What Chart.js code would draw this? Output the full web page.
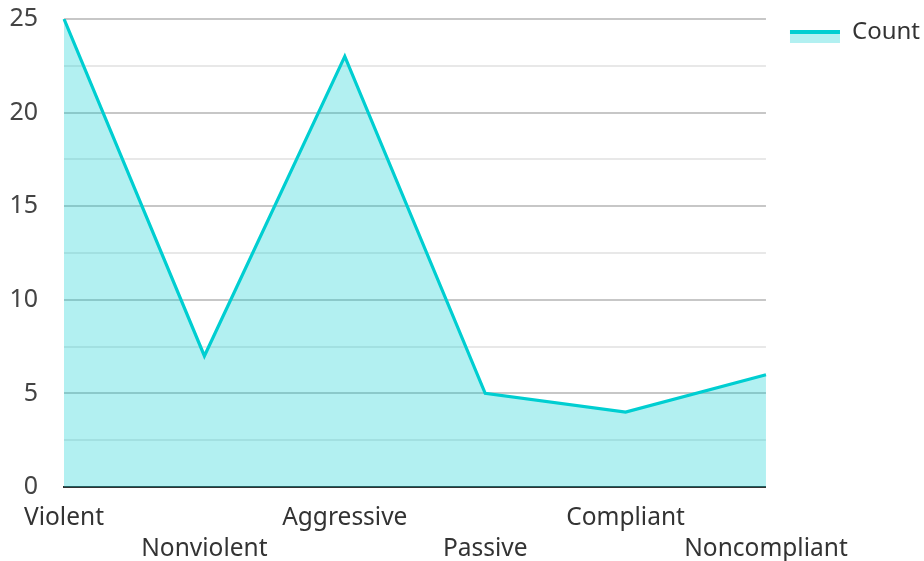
<html>
  <head>
    <title>Count</title>
    <style>
      body { margin: 0; background: #fff; }
      #wrap { width: 924px; height: 561px; }
    </style>
  </head>
  <body>
    <div id="wrap"><canvas id="myChart"></canvas></div>
  </body>
</html>

<script src="https://cdn.jsdelivr.net/npm/chart.js"></script>
<script>
  var categories = ['Violent', 'Nonviolent', 'Aggressive', 'Passive', 'Compliant', 'Noncompliant'];
  var countData = [25, 7, 23, 5, 4, 6];
  var yTicks = [0, 5, 10, 15, 20, 25];

  var lineColor = 'rgb(0, 206, 209)';
  var fillColor = 'rgba(0, 206, 209, 0.3)';

  // every other label goes on a second line so they don't collide
  var labels = categories.map(function (c, i) {
    return i % 2 === 0 ? [c] : ['', c];
  });

  // legend swatch: light fill with a thick line along its top
  const legendSwatch = {
    id: 'legendSwatch',
    afterDraw: function (chart) {
      var c = chart.ctx;
      var bw = chart.legend.options.labels.boxWidth;
      chart.legend.legendHitBoxes.forEach(function (b) {
        var top = b.top + b.height / 2 - 2;
        c.save();
        c.fillStyle = fillColor;
        c.fillRect(b.left, top, bw, 13);
        c.strokeStyle = lineColor;
        c.lineWidth = 4;
        c.beginPath();
        c.moveTo(b.left, top + 2);
        c.lineTo(b.left + bw, top + 2);
        c.stroke();
        c.restore();
      });
    }
  };

  const ctx = document.getElementById('myChart').getContext('2d');
  const myChart = new Chart(ctx, {
    type: 'line',
    data: {
      labels: labels,
      datasets: [
        {
          label: 'Count',
          data: countData,
          borderColor: lineColor,
          backgroundColor: fillColor,
          fill: 'origin',
          borderWidth: 3.2,
          pointRadius: 0,
          tension: 0
        }
      ]
    },
    plugins: [legendSwatch],
    options: {
      responsive: true,
      maintainAspectRatio: false,
      animation: false,
      layout: { padding: { top: -4, left: 0, right: -6, bottom: 0 } },
      scales: {
        x: {
          grid: { display: false, drawTicks: false },
          border: { color: '#333', width: 2 },
          ticks: {
            autoSkip: false,
            maxRotation: 0,
            padding: 15,
            color: '#333',
            font: { family: '"Noto Sans", sans-serif', size: 24.5, lineHeight: 1.27 }
          },
          afterFit: function (s) {
            s.height = 74;
            s.paddingLeft = 0;
            s.paddingRight = 0;
          }
        },
        y: {
          min: 0,
          max: 25,
          border: { display: false },
          grid: {
            drawTicks: false,
            color: function (c) {
              return c.tick && yTicks.indexOf(c.tick.value) >= 0 ? 'rgba(0,0,0,0.22)' : 'rgba(0,0,0,0.09)';
            },
            lineWidth: 2
          },
          ticks: {
            stepSize: 2.5,
            padding: 26,
            color: '#444',
            font: { family: '"Noto Sans", sans-serif', size: 25 },
            callback: function (v) {
              return yTicks.indexOf(v) >= 0 ? v : '';
            }
          },
          afterFit: function (s) {
            s.width = 64;
            s.paddingTop = 19;
            s.paddingBottom = 0;
          }
        }
      },
      plugins: {
        legend: {
          display: true,
          position: 'right',
          align: 'start',
          labels: {
            boxWidth: 50,
            boxHeight: 13,
            padding: 24,
            color: '#333',
            font: { family: '"Noto Sans", sans-serif', size: 24 },
            generateLabels: function (chart) {
              return chart.data.datasets.map(function (ds, i) {
                return {
                  text: ds.label,
                  fillStyle: 'rgba(0,0,0,0)',
                  strokeStyle: 'rgba(0,0,0,0)',
                  lineWidth: 0,
                  fontColor: '#333',
                  datasetIndex: i
                };
              });
            }
          }
        },
        tooltip: { enabled: false }
      }
    }
  });
</script>
